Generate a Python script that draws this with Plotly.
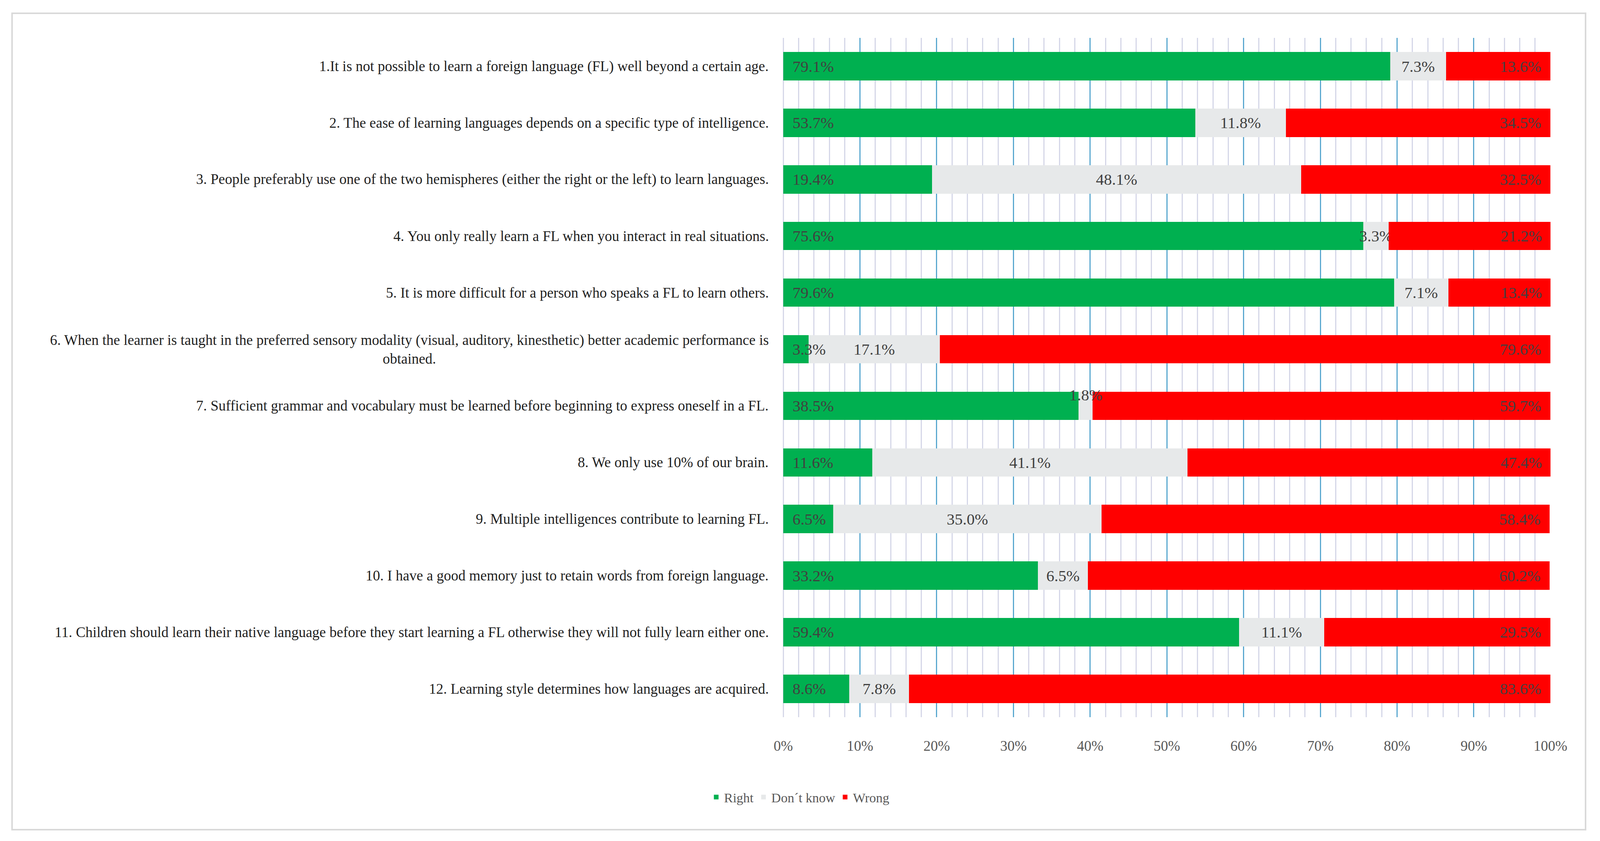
import plotly.graph_objects as go

questions = [
    "1.It is not possible to learn a foreign language (FL) well beyond a certain age.",
    "2. The ease of learning languages depends on a specific type of intelligence.",
    "3. People preferably use one of the two hemispheres (either the right or the left) to learn languages.",
    "4. You only really learn a FL when you interact in real situations.",
    "5. It is more difficult for a person who speaks a FL to learn others.",
    "6. When the learner is taught in the preferred sensory modality (visual, auditory, kinesthetic) better academic performance is<br>obtained.",
    "7. Sufficient grammar and vocabulary must be learned before beginning to express oneself in a FL.",
    "8. We only use 10% of our brain.",
    "9. Multiple intelligences contribute to learning FL.",
    "10. I have a good memory just to retain words from foreign language.",
    "11. Children should learn their native language before they start learning a FL otherwise they will not fully learn either one.",
    "12. Learning style determines how languages are acquired.",
]

right = [79.1, 53.7, 19.4, 75.6, 79.6, 3.3, 38.5, 11.6, 6.5, 33.2, 59.4, 8.6]
dont_know = [7.3, 11.8, 48.1, 3.3, 7.1, 17.1, 1.8, 41.1, 35.0, 6.5, 11.1, 7.8]
wrong = [13.6, 34.5, 32.5, 21.2, 13.4, 79.6, 59.7, 47.4, 58.4, 60.2, 29.5, 83.6]

x_ticks = [0, 10, 20, 30, 40, 50, 60, 70, 80, 90, 100]
x_ticktext = ["0%", "10%", "20%", "30%", "40%", "50%", "60%", "70%", "80%", "90%", "100%"]

# row 7's "don't know" label sits above its bar in the original
raised = 6
# row 6's "right" label spills over the grey segment
spill = 5

FONT = "Liberation Serif"
LABEL = "#404040"
PAD = "\u00a0\u00a0"

# layout is given as fractions of the page so it follows the window size
X0, X1 = 0.4895, 0.9709      # plot area, left / right
Y0, Y1 = 0.1447, 0.9583      # plot area, bottom / top


def pct(v):
    return [f"{x:.1f}%" for x in v]


right_text = [PAD + t for t in pct(right)]
right_text[spill] = ""
dk_text = pct(dont_know)
dk_text[raised] = ""

fig = go.Figure()
fig.add_trace(go.Bar(
    y=questions, x=right, name="Right", orientation="h",
    marker=dict(color="#00B050", line=dict(width=0)),
    text=right_text, textposition="inside", insidetextanchor="start",
))
fig.add_trace(go.Bar(
    y=questions, x=dont_know, name="Don´t know", orientation="h",
    marker=dict(color="#E7E9EA", line=dict(width=0)),
    text=dk_text, textposition="inside", insidetextanchor="middle",
))
fig.add_trace(go.Bar(
    y=questions, x=wrong, name="Wrong", orientation="h",
    marker=dict(color="#FF0000", line=dict(width=0)),
    text=[t + PAD for t in pct(wrong)], textposition="inside", insidetextanchor="end",
))
fig.update_traces(textfont=dict(family=FONT, size=41, color=LABEL),
                  insidetextfont=dict(family=FONT, size=41, color=LABEL),
                  textangle=0, constraintext="none", hoverinfo="skip")

# question labels (row 6 wraps with a centred second line)
for q in questions:
    fig.add_annotation(x=0.4810, xref="paper", y=q, yref="y", text=q,
                       xanchor="right", align="center", showarrow=False,
                       font=dict(family=FONT, size=37, color="#1F1F1F"))

fig.add_annotation(x=right[raised] + dont_know[raised] / 2, y=questions[raised],
                   text=pct(dont_know)[raised], showarrow=False, yshift=28,
                   font=dict(family=FONT, size=41, color=LABEL))
fig.add_annotation(x=0, y=questions[spill], text=PAD + pct(right)[spill],
                   xanchor="left", showarrow=False, xshift=1,
                   font=dict(family=FONT, size=41, color=LABEL))

fig.add_shape(type="rect", xref="paper", yref="paper",
              x0=0.0056, x1=0.9929, y0=0.0098, y1=0.9878,
              line=dict(color="#D9D9D9", width=4), layer="below")

fig.update_layout(
    autosize=True,
    margin=dict(l=0, r=0, t=0, b=0, pad=0),
    barmode="stack", bargap=0.5,
    paper_bgcolor="white", plot_bgcolor="white",
    font=dict(family=FONT, size=37, color="#595959"),
    uniformtext=dict(mode="show", minsize=41),
    showlegend=True,
    legend=dict(orientation="h", traceorder="normal",
                x=0.5, xanchor="center", y=0.0487, yanchor="middle",
                font=dict(family=FONT, size=34, color="#595959"),
                itemwidth=30),
    xaxis=dict(domain=[X0, X1], range=[0, 100],
               tickmode="array", tickvals=x_ticks, ticktext=x_ticktext,
               showgrid=True, gridcolor="#5AA8D0", gridwidth=3,
               zeroline=True, zerolinecolor="#D5D7E8", zerolinewidth=3,
               minor=dict(dtick=2, showgrid=True, gridcolor="#D5D7E8", gridwidth=3),
               ticks="", ticklabelstandoff=48, automargin=False,
               tickfont=dict(family=FONT, size=37, color="#595959"),
               showline=False, fixedrange=True),
    yaxis=dict(domain=[Y0, Y1], autorange="reversed", showticklabels=False,
               showgrid=False, showline=False, ticks="", automargin=False),
)

fig.write_html("out.html")
